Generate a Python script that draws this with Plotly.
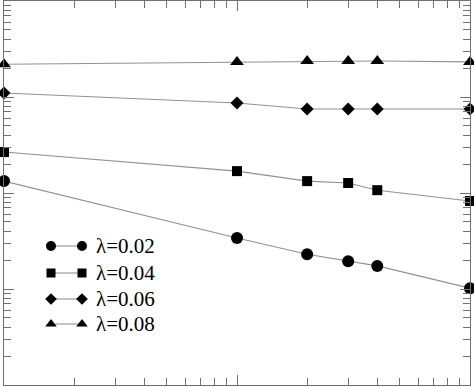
import plotly.graph_objects as go

# Data
x_vals = [1, 10, 20, 30, 40, 100]
lam_labels = ["λ=0.02", "λ=0.04", "λ=0.06", "λ=0.08"]
y_002 = [13.3, 3.4, 2.3, 1.95, 1.74, 1.02]
y_004 = [26.7, 16.9, 13.3, 12.7, 10.7, 8.25]
y_006 = [110, 86.6, 75, 75, 75, 75]
y_008 = [219, 232, 237, 237, 237, 232]
series = [y_002, y_004, y_006, y_008]

symbols = ["circle", "square", "diamond", "triangle-up"]
sizes = [12, 10, 10, 12]
leg_sizes = [10, 9, 9, 10]

W, H = 474, 387
ML, MR, MT, MB = 4, 4, 1, 2
PW, PH = W - ML - MR, H - MT - MB

line_col = "#929292"
axis_col = "#707070"

fig = go.Figure()
for ys, sym, sz, name in zip(series, symbols, sizes, lam_labels):
    fig.add_trace(go.Scatter(
        x=x_vals, y=ys, mode="lines+markers", name=name,
        line=dict(color=line_col, width=1.1),
        marker=dict(symbol=sym, size=sz, color="black"),
        cliponaxis=False, showlegend=False,
    ))

# custom legend (markers at both ends of a short line)
leg_rows_px = [246, 273, 299, 324]
leg_x0_px, leg_x1_px, leg_text_px = 51, 82, 94
for lab, sym, sz, py in zip(lam_labels, symbols, leg_sizes, leg_rows_px):
    yp = (H - MB - py) / PH
    x0 = (leg_x0_px - ML) / PW
    x1 = (leg_x1_px - ML) / PW
    fig.add_trace(go.Scatter(
        x=[x0, x1], y=[yp, yp], mode="lines+markers",
        xaxis="x2", yaxis="y2",
        line=dict(color=line_col, width=1.1),
        marker=dict(symbol=sym, size=sz, color="black"),
        showlegend=False, hoverinfo="skip", cliponaxis=False,
    ))
    fig.add_annotation(
        x=(leg_text_px - ML) / PW, y=yp, xref="paper", yref="paper",
        text=lab, showarrow=False, xanchor="left", yanchor="middle",
        font=dict(family="Liberation Serif, Times New Roman, serif", size=21, color="black"),
    )

axis_common = dict(
    showgrid=False, zeroline=False, showticklabels=False,
    showline=True, linecolor=axis_col, linewidth=1, mirror="ticks",
    ticks="inside", ticklen=10, tickcolor=axis_col, tickwidth=1,
    dtick=1,
    minor=dict(ticks="inside", ticklen=7, tickcolor=axis_col, tickwidth=1,
               dtick="D1", showgrid=False),
)

fig.update_layout(
    width=W, height=H,
    margin=dict(l=ML, r=MR, t=MT, b=MB),
    paper_bgcolor="white", plot_bgcolor="white",
    xaxis=dict(type="log", range=[0, 2], **axis_common),
    yaxis=dict(type="log", range=[-1, 3], **axis_common),
    xaxis2=dict(overlaying="x", range=[0, 1], visible=False, domain=[0, 1]),
    yaxis2=dict(overlaying="y", range=[0, 1], visible=False, domain=[0, 1]),
    showlegend=False,
)

fig.write_html("out.html")
